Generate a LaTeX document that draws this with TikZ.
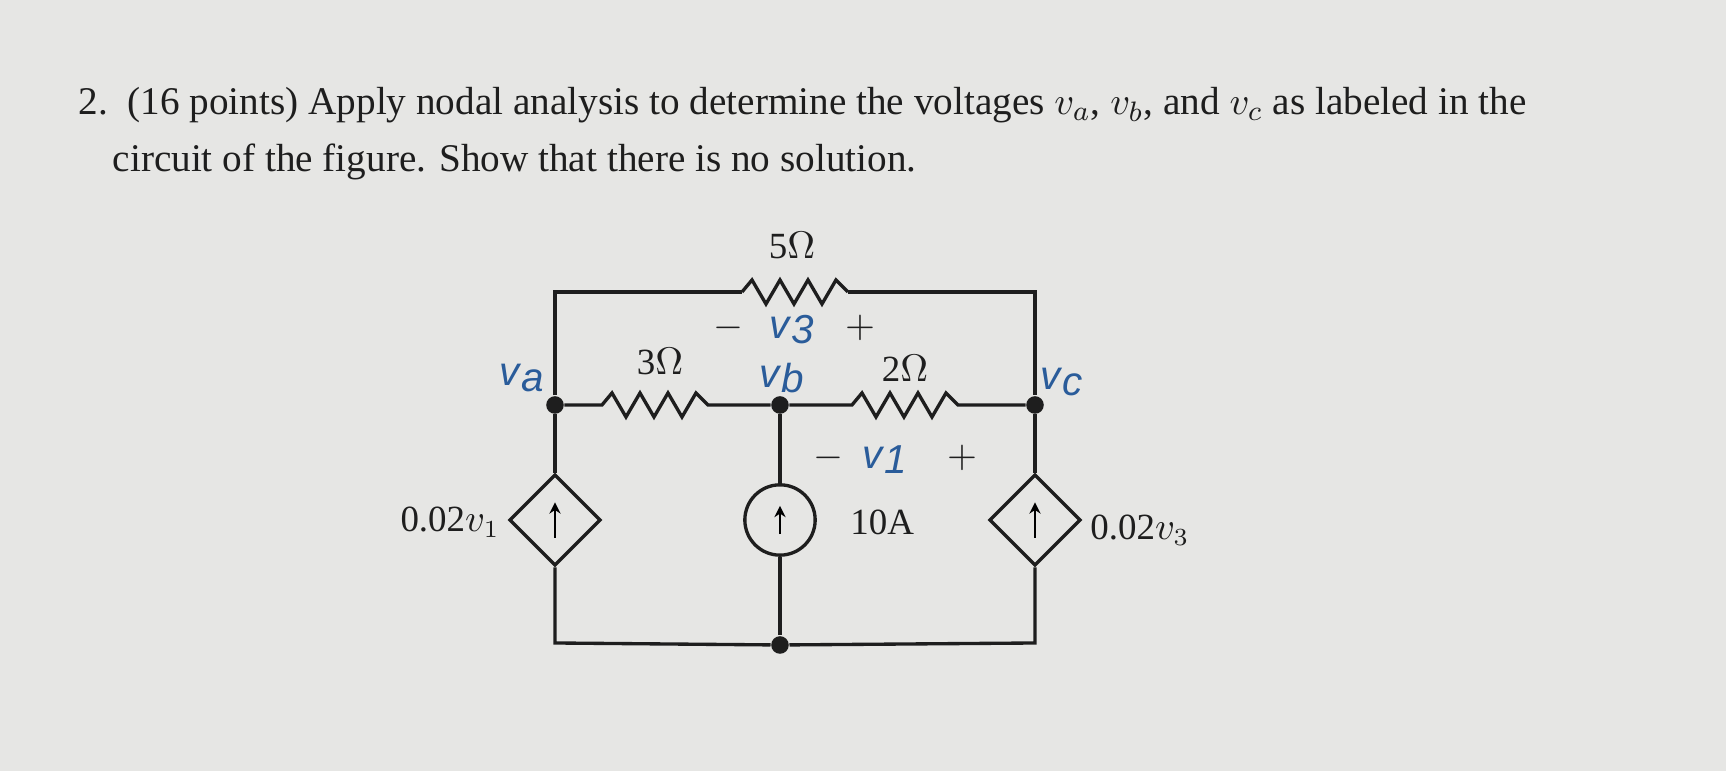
\documentclass[tikz,border=0pt]{standalone}
\usepackage{fontspec}
\setmainfont{Liberation Serif}
\newfontfamily\lblfont{Liberation Sans}
\usetikzlibrary{shapes.geometric,arrows.meta}
\definecolor{bg}{HTML}{E6E6E4}
\definecolor{ink}{HTML}{1E1E1E}
\definecolor{vblue}{HTML}{2A5C9A}
\tikzset{
  wire/.style={line width=0.95pt, draw=ink},
  dot/.style={circle, fill=ink, inner sep=0pt, minimum size=5pt},
  lbl/.style={font=\fontsize{10.5}{12}\selectfont, text=ink},
  vlbl/.style={font=\lblfont\itshape\fontsize{11.5}{12}\selectfont, text=vblue},
  dsrc/.style={diamond, draw=ink, line width=0.95pt, minimum width=26pt, minimum height=26pt, inner sep=0pt, fill=bg},
  csrc/.style={circle, draw=ink, line width=0.95pt, minimum size=20pt, inner sep=0pt, fill=bg},
  arr/.style={line width=0.8pt, -{Stealth[length=3.2pt,width=3.2pt]}}
}
\begin{document}
\begin{tikzpicture}[x=0.01cm,y=-0.01cm]
\fill[bg] (0,0) rectangle (1726,771);
\useasboundingbox (0,0) rectangle (1726,771);
% problem text
\node[anchor=base west, font=\fontsize{11.15}{12}\selectfont, text=ink, inner sep=0pt] (t1) at (78,115)
 {2.\ \ (16 points) Apply nodal analysis to determine the voltages $v_a$, $v_b$, and $v_c$ as labeled in the};
\node[anchor=base west, font=\fontsize{11.15}{12}\selectfont, text=ink, inner sep=0pt] (t2) at (112,172)
 {circuit of the figure. Show that there is no solution.};
% corners and nodes
\coordinate (tl) at (555,292);
\coordinate (tr) at (1035,292);
\coordinate (bl) at (555,643);
\coordinate (br) at (1035,643);
\node[dot] (na) at (555,405) {};
\node[dot] (nb) at (780,405) {};
\node[dot] (nc) at (1035,405) {};
\node[dot] (nd) at (780,645) {};
% sources
\node[dsrc] (s1) at (555,520) {};
\node[csrc] (s2) at (780,520) {};
\node[dsrc] (s3) at (1035,520) {};
\draw[arr] ([yshift=-5pt]s1.center) -- ([yshift=5pt]s1.center);
\draw[arr] ([yshift=-4pt]s2.center) -- ([yshift=4pt]s2.center);
\draw[arr] ([yshift=-5pt]s3.center) -- ([yshift=5pt]s3.center);
% resistor endpoints
\coordinate (r5a) at (742,292); \coordinate (r5b) at (848,292);
\coordinate (r3a) at (602,405); \coordinate (r3b) at (708,405);
\coordinate (r2a) at (852,405); \coordinate (r2b) at (958,405);
% wires
\draw[wire] (na) -- (tl) -- (r5a);
\draw[wire] (r5b) -- (tr) -- (nc);
\draw[wire] (r5a) -- ++(10,-12) -- ++(14,24) -- ++(14,-24) -- ++(14,24) -- ++(14,-24) -- ++(14,24) -- ++(14,-24) -- (r5b);
\draw[wire] (na) -- (r3a) -- ++(10,-12) -- ++(14,24) -- ++(14,-24) -- ++(14,24) -- ++(14,-24) -- ++(14,24) -- ++(14,-24) -- (r3b) -- (nb);
\draw[wire] (nb) -- (r2a) -- ++(10,-12) -- ++(14,24) -- ++(14,-24) -- ++(14,24) -- ++(14,-24) -- ++(14,24) -- ++(14,-24) -- (r2b) -- (nc);
\draw[wire] (na) -- (s1.north);
\draw[wire] (s1.south) -- (bl) -- (nd) -- (br) -- (s3.south);
\draw[wire] (nc) -- (s3.north);
\draw[wire] (nb) -- (s2.north);
\draw[wire] (s2.south) -- (nd);
% labels
\node[lbl] (l5) at (792,246) {5$\Omega$};
\node[lbl] (l3) at (660,362) {3$\Omega$};
\node[lbl] (l2) at (905,368) {2$\Omega$};
\node[vlbl] (la) at (522,378) {v\kern0.5pt\raisebox{-1.5pt}{a}};
\node[vlbl] (lb) at (782,378) {v\kern0.5pt\raisebox{-1.5pt}{b}};
\node[vlbl] (lc) at (1062,382) {v\kern0.5pt\raisebox{-1.5pt}{c}};
\node[lbl] (m3) at (728,328) {$-$};
\node[vlbl] (v3) at (792,330) {v\kern0.5pt\raisebox{-1.5pt}{3}};
\node[lbl] (p3) at (860,328) {$+$};
\node[lbl] (m1) at (828,458) {$-$};
\node[vlbl] (v1) at (885,460) {v\kern0.5pt\raisebox{-1.5pt}{1}};
\node[lbl] (p1) at (962,458) {$+$};
\node[lbl, anchor=east] (g1) at (512,522) {0.02$v_1$};
\node[lbl, anchor=west] (i10) at (838,522) {10A};
\node[lbl, anchor=west] (g3) at (1078,530) {0.02$v_3$};
\end{tikzpicture}
\end{document}
